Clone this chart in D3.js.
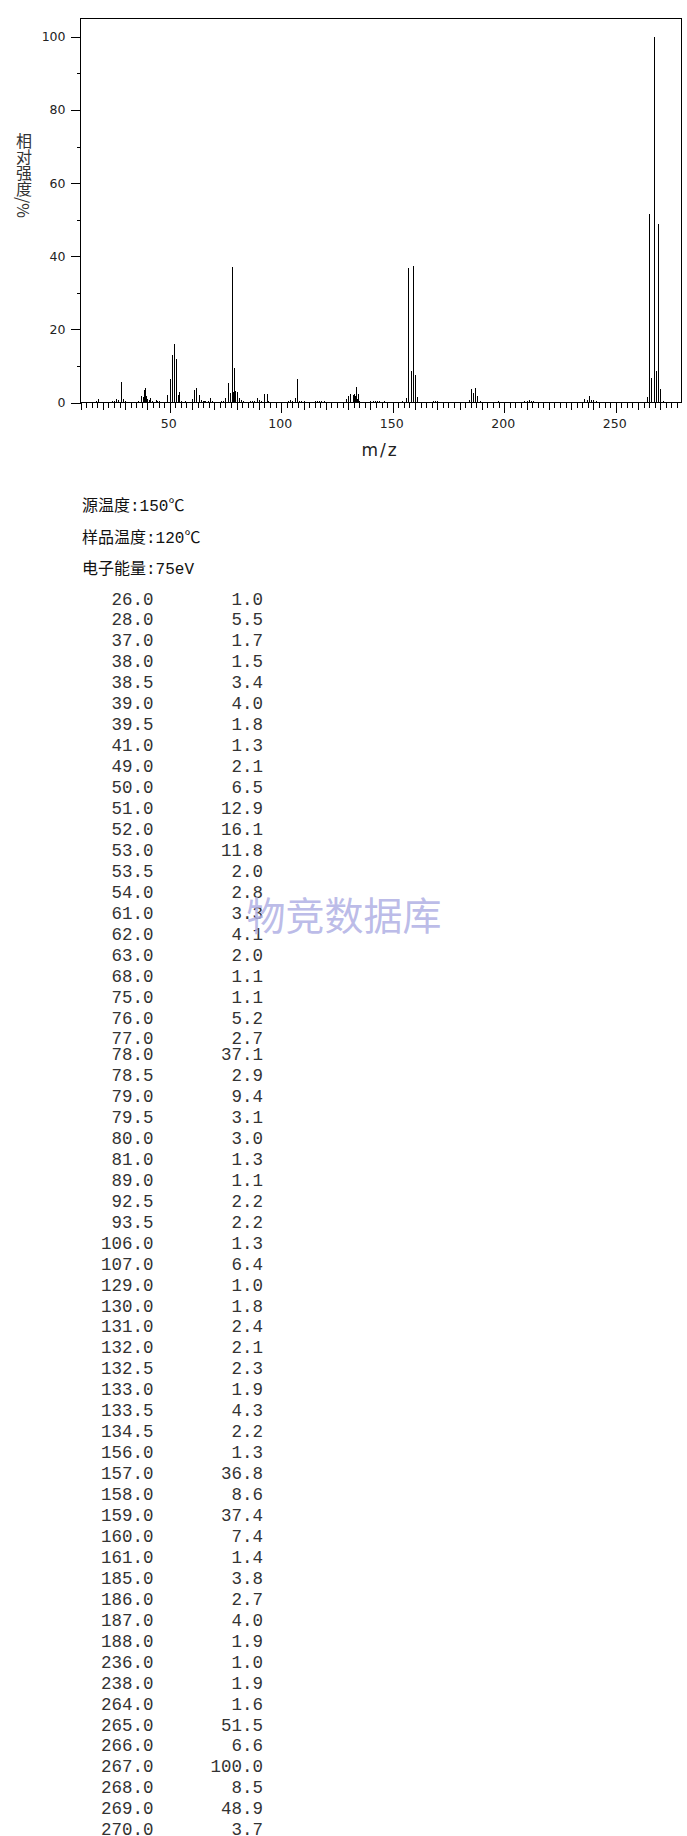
<!DOCTYPE html>
<html>
<head>
<meta charset="utf-8">
<script src="https://cdn.jsdelivr.net/npm/d3@7/dist/d3.min.js"></script>
<style>
html,body{margin:0;padding:0;background:#fff;}
svg{display:block;}
</style>
</head>
<body>
<svg id="chart" width="687" height="1836"></svg>
<script>
// Listed peaks (table)
const tableMz = [26.0,28.0,37.0,38.0,38.5,39.0,39.5,41.0,49.0,50.0,51.0,52.0,53.0,53.5,54.0,61.0,62.0,63.0,68.0,75.0,76.0,77.0,78.0,78.5,79.0,79.5,80.0,81.0,89.0,92.5,93.5,106.0,107.0,129.0,130.0,131.0,132.0,132.5,133.0,133.5,134.5,156.0,157.0,158.0,159.0,160.0,161.0,185.0,186.0,187.0,188.0,236.0,238.0,264.0,265.0,266.0,267.0,268.0,269.0,270.0];
const tableInt = [1.0,5.5,1.7,1.5,3.4,4.0,1.8,1.3,2.1,6.5,12.9,16.1,11.8,2.0,2.8,3.3,4.1,2.0,1.1,1.1,5.2,2.7,37.1,2.9,9.4,3.1,3.0,1.3,1.1,2.2,2.2,1.3,6.4,1.0,1.8,2.4,2.1,2.3,1.9,4.3,2.2,1.3,36.8,8.6,37.4,7.4,1.4,3.8,2.7,4.0,1.9,1.0,1.9,1.6,51.5,6.6,100.0,8.5,48.9,3.7];
// Small peaks visible in the spectrum but not listed
const minorMz = [17,18,24,25,27,29,30,36,40,40.5,42,44,44.5,45,55,57,60,64,65,65.5,66,67,69,70,73,74,82,83,86,87,88,90,91,94,103,104,105,108,109,110,115,116,117,118,119,120,134,135,140,141,142,143,144,145,146,154,168,169,170,171,184,189,197,209,210,211,212,213,237,239,240,241,271];
const minorInt = [0.3,0.9,0.3,0.4,0.6,0.9,0.3,0.4,0.9,0.8,0.3,0.8,0.5,0.3,0.5,0.3,0.9,0.7,0.5,0.4,0.4,0.3,0.4,0.2,0.3,0.5,0.7,0.3,0.3,0.3,0.5,0.7,0.3,0.4,0.3,0.7,0.5,0.5,0.5,0.3,0.3,0.3,0.5,0.5,0.3,0.2,1.0,0.4,0.3,0.5,0.3,0.5,0.3,0.2,0.3,0.3,0.3,0.3,0.3,0.2,0.7,0.3,0.3,0.3,0.5,0.7,0.4,0.3,0.6,0.7,0.8,0.3,0.3];

const yTickValues = [0,20,40,60,80,100];
const xTickLabels = [50,100,150,200,250];
const infoLines = ["源温度:150℃","样品温度:120℃","电子能量:75eV"];
const yAxisTitle = "相对强度/%";
const xAxisTitle = "m/z";
const watermark = "物竞数据库";

const svg = d3.select("#chart");
const x = d3.scaleLinear().domain([10, 279.5]).range([80.5, 681.5]);
const y = d3.scaleLinear().domain([0, 105]).range([402.5, 18.5]);

// frame
svg.append("rect")
  .attr("x", x.range()[0]).attr("y", y.range()[1])
  .attr("width", x.range()[1]-x.range()[0]).attr("height", y.range()[0]-y.range()[1])
  .attr("fill","none").attr("stroke","#000").attr("stroke-width",1);

// peaks
const peaks = tableMz.map((m,i)=>({m, v: tableInt[i]}))
  .concat(minorMz.map((m,i)=>({m, v: minorInt[i]})));
svg.append("g").selectAll("line").data(peaks).join("line")
  .attr("x1", d=>Math.round(x(d.m))+0.5).attr("x2", d=>Math.round(x(d.m))+0.5)
  .attr("y1", y(0)).attr("y2", d=>y(d.v))
  .attr("stroke","#000").attr("stroke-width",1).attr("shape-rendering","crispEdges");

// x ticks: minor every 2.5, medium every 10, major every 50
const xTicksAll = d3.range(0, 109).map(i => 10 + i*2.5).filter(v => v <= 279.5);
svg.append("g").selectAll("line").data(xTicksAll).join("line")
  .attr("x1", d=>Math.round(x(d))+0.5).attr("x2", d=>Math.round(x(d))+0.5)
  .attr("y1", y(0))
  .attr("y2", d=> y(0) + (d%50===0 ? 10 : (d%10===0 ? 7 : 5)))
  .attr("stroke","#000").attr("shape-rendering","crispEdges");

svg.append("g").selectAll("text").data(xTickLabels).join("text")
  .attr("x", d=>x(d)-1).attr("y", 428)
  .attr("text-anchor","middle")
  .attr("font-family","DejaVu Sans, Verdana, sans-serif").attr("font-size",12.5)
  .attr("fill","#222").text(d=>d);

// y ticks
const yTicksAll = d3.range(0, 101, 10);
svg.append("g").selectAll("line").data(yTicksAll).join("line")
  .attr("x1", x.range()[0]).attr("x2", d=> x.range()[0] - (d%20===0 ? 10 : 4))
  .attr("y1", d=>Math.round(y(d))+0.5).attr("y2", d=>Math.round(y(d))+0.5)
  .attr("stroke","#000").attr("shape-rendering","crispEdges");
svg.append("g").selectAll("text").data(yTickValues).join("text")
  .attr("x", 65.5).attr("y", d=>y(d)+4.5)
  .attr("text-anchor","end")
  .attr("font-family","DejaVu Sans, Verdana, sans-serif").attr("font-size",12.5)
  .attr("fill","#222").text(d=>d);

// axis titles
svg.append("text")
  .attr("x", 24).attr("y", 133)
  .attr("writing-mode","vertical-rl")
  .style("writing-mode","vertical-rl")
  .attr("font-family","Noto Sans CJK SC, sans-serif").attr("font-size",16)
  .attr("fill","#333").text(yAxisTitle);
svg.append("text")
  .attr("x", 380).attr("y", 456)
  .attr("text-anchor","middle")
  .attr("letter-spacing", 2)
  .attr("font-family","DejaVu Sans, sans-serif").attr("font-size",17)
  .attr("fill","#222").text(xAxisTitle);

// info lines
svg.append("g").selectAll("text").data(infoLines).join("text")
  .attr("x", 82).attr("y", (d,i)=>511 + i*31.5)
  .attr("font-family","Liberation Mono, Noto Sans CJK SC, monospace").attr("font-size",16)
  .attr("fill","#111").text(d=>d);

// table
const rowY = i => 604.5 + i*20.95 - (i >= 22 ? 5.3 : 0);
const tg = svg.append("g")
  .attr("font-family","Liberation Mono, Courier New, monospace").attr("font-size",17.5)
  .attr("fill","#333");
tg.selectAll("text.mz").data(tableMz).join("text").attr("class","mz")
  .attr("x",153.5).attr("y",(d,i)=>rowY(i)).attr("text-anchor","end")
  .text(d=>d.toFixed(1));
tg.selectAll("text.iv").data(tableInt).join("text").attr("class","iv")
  .attr("x",263).attr("y",(d,i)=>rowY(i)).attr("text-anchor","end")
  .text(d=>d.toFixed(1));

// watermark
svg.append("text")
  .attr("x", 344).attr("y", 930)
  .attr("text-anchor","middle")
  .attr("font-family","Noto Sans CJK SC, sans-serif").attr("font-size",39)
  .attr("fill","#b0b0e4").attr("fill-opacity",0.85).text(watermark);
</script>
</body>
</html>
